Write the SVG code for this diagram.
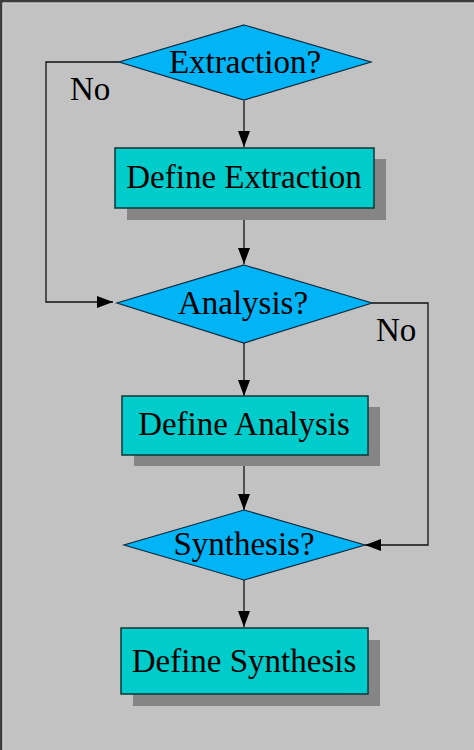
<svg xmlns="http://www.w3.org/2000/svg" width="474" height="750" viewBox="0 0 474 750">
<defs>
<style>
text{font-family:"Liberation Serif","Times New Roman",serif;font-size:33px;fill:#000;}
.dia{fill:#00b4f5;stroke:#0a2a40;stroke-width:1.2;}
.box{fill:#00cccc;stroke:#083838;stroke-width:1.5;}
.sh{fill:#858585;}
.ln{fill:none;stroke:#111;stroke-width:1.3;}
</style>
<marker id="ah" viewBox="0 0 16 12" refX="16" refY="6" markerWidth="16" markerHeight="12" markerUnits="userSpaceOnUse" orient="auto">
<path d="M0,0 L16,6 L0,12 Z" fill="#000"/>
</marker>
</defs>
<rect x="0" y="0" width="474" height="750" fill="#c2c2c2"/>
<path d="M1.2,750 V1.2 H474" fill="none" stroke="#3c3c3c" stroke-width="2.4"/>
<path d="M3,750 V3 H474" fill="none" stroke="#d8d8d8" stroke-width="0.8"/>
<g id="connectors">
<path class="ln" d="M244,101 V147" marker-end="url(#ah)"/>
<path class="ln" d="M244,208 V264" marker-end="url(#ah)"/>
<path class="ln" d="M119,62 H46 V302 H113" marker-end="url(#ah)"/>
<path class="ln" d="M244,343 V396" marker-end="url(#ah)"/>
<path class="ln" d="M244,455 V510" marker-end="url(#ah)"/>
<path class="ln" d="M372,303 H428 V545 H365" marker-end="url(#ah)"/>
<path class="ln" d="M244,580 V627" marker-end="url(#ah)"/>
<text x="70" y="100">No</text>
<text x="376" y="341">No</text>
</g>
<g id="extraction">
<polygon class="dia" points="244,25 371,62 244,100 119,62"/>
<text x="245" y="73" text-anchor="middle">Extraction?</text>
</g>
<g id="define-extraction">
<rect class="sh" x="127" y="159" width="259" height="61"/>
<rect class="box" x="115" y="148" width="259" height="60"/>
<text x="244" y="188" text-anchor="middle">Define Extraction</text>
</g>
<g id="analysis">
<polygon class="dia" points="244,265 372,303 244,343 117,303"/>
<text x="243" y="314" text-anchor="middle">Analysis?</text>
</g>
<g id="define-analysis">
<rect class="sh" x="134" y="407" width="246" height="59"/>
<rect class="box" x="122" y="396" width="246" height="59"/>
<text x="244" y="435" text-anchor="middle">Define Analysis</text>
</g>
<g id="synthesis">
<polygon class="dia" points="244,510 365,545 244,580 124,545"/>
<text x="244" y="555" text-anchor="middle">Synthesis?</text>
</g>
<g id="define-synthesis">
<rect class="sh" x="133" y="640" width="247" height="66"/>
<rect class="box" x="121" y="628" width="247" height="66"/>
<text x="244" y="672" text-anchor="middle">Define Synthesis</text>
</g>
</svg>
